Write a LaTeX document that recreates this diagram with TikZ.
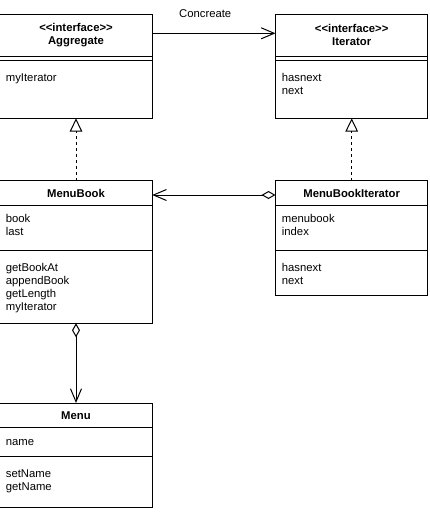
\documentclass[tikz,border=0pt]{standalone}
\usepackage{fontspec}
\newfontfamily\umlfont{Liberation Sans}
\usetikzlibrary{arrows.meta}

\begin{document}
\begin{tikzpicture}[x=1pt, y=-1pt,
    box/.style={draw, line width=1pt, minimum width=152.4pt, inner sep=0pt, outer sep=0pt},
    head/.style={box, align=center, font=\umlfont\bfseries\fontsize{11.3}{13}\selectfont},
    members/.style={anchor=base west, align=left, inner sep=0pt, font=\umlfont\fontsize{11.3}{13}\selectfont},
    realize/.style={line width=1pt, dash pattern=on 3pt off 3pt, -{Triangle[open, length=13.4pt, width=12.7pt]}},
    assoc/.style={line width=1pt, -{Straight Barb[length=13pt, width=11pt]}},
    aggr/.style={line width=1pt, {Diamond[open, length=14pt, width=8pt]}-{Straight Barb[length=13pt, width=11pt]}}]
    \useasboundingbox (0,0) rectangle (429,512);

    % Aggregate (upper left)
    \node[head, minimum height=42pt] (aggHead) at (76,35.3) {<<interface>>\\Aggregate};
    \node[box, minimum height=62pt] (aggBody) at (76,87.3) {};
    \draw[line width=1pt] ([yshift=-4pt]aggBody.north west) -- ([yshift=-4pt]aggBody.north east);
    \node[members] (aggOps) at (5.7,81) {myIterator};

    % Iterator (upper right)
    \node[head, minimum height=42pt] (itHead) at (351.7,35.3) {<<interface>>\\Iterator};
    \node[box, minimum height=62pt] (itBody) at (351.7,87.3) {};
    \draw[line width=1pt] ([yshift=-4pt]itBody.north west) -- ([yshift=-4pt]itBody.north east);
    \node[members] (itOps) at (281.7,94) {hasnext\\next};

    % MenuBook (middle left)
    \node[head, minimum height=24.6pt] (mbHead) at (76,193) {MenuBook};
    \node[box, minimum height=45.4pt] (mbAttr) at (76,228) {};
    \node[box, minimum height=72.6pt] (mbOps) at (76,287) {};
    \node[members] (mbAttrText) at (5.7,235.3) {book\\last};
    \node[members] (mbOpsText) at (5.7,310.7) {getBookAt\\appendBook\\getLength\\myIterator};

    % MenuBookIterator (middle right)
    \node[head, minimum height=24.6pt] (mbiHead) at (351.7,193) {MenuBookIterator};
    \node[box, minimum height=45.4pt] (mbiAttr) at (351.7,228) {};
    \node[box, minimum height=44.3pt] (mbiOps) at (351.7,272.85) {};
    \node[members] (mbiAttrText) at (281.7,235.3) {menubook\\index};
    \node[members] (mbiOpsText) at (281.7,284.7) {hasnext\\next};

    % Menu (lower left)
    \node[head, minimum height=24.7pt] (menuHead) at (76,415.35) {Menu};
    \node[box, minimum height=29pt] (menuAttr) at (76,442.2) {};
    \node[box, minimum height=50.6pt] (menuOps) at (76,482) {};
    \node[members] (menuAttrText) at (5.7,445) {name};
    \node[members] (menuOpsText) at (5.7,490.5) {setName\\getName};

    % Aggregate uses Iterator
    \draw[assoc] ([yshift=2pt]aggHead.east) -- ([yshift=2pt]itHead.west)
      node[pos=0.43, above=15pt, inner sep=0pt, font=\umlfont\fontsize{11.3}{13}\selectfont] (concLbl) {Concreate};

    % realizations (dashed)
    \draw[realize] (mbHead.north) -- (aggBody.south);
    \draw[realize] (mbiHead.north) -- (itBody.south);

    % aggregations
    \draw[aggr] ([yshift=-2pt]mbiHead.west) -- ([yshift=-2pt]mbHead.east);
    \draw[aggr] (mbOps.south) -- (menuHead.north);
\end{tikzpicture}
\end{document}
